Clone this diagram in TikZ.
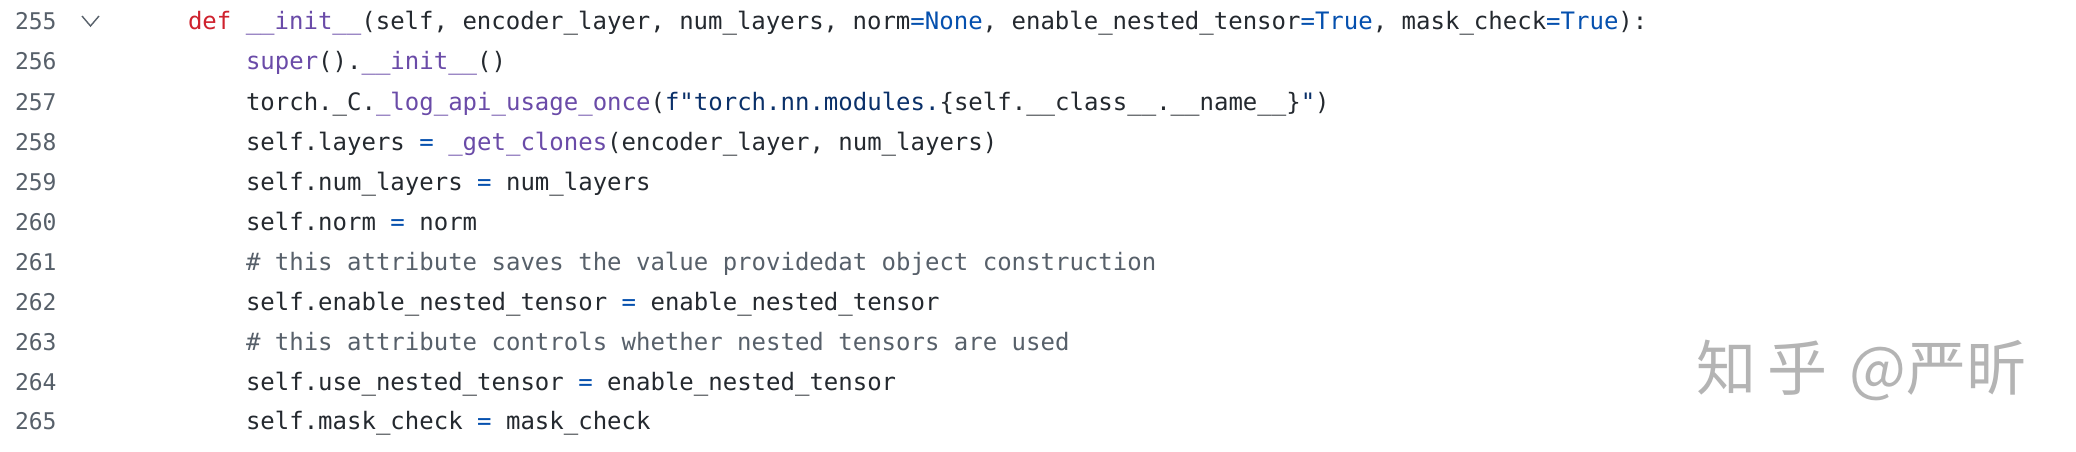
\documentclass[tikz,border=0pt]{standalone}
\usepackage{fontspec}
\newfontfamily\codefont{DejaVu Sans Mono}
\newfontfamily\cjkfont{Noto Sans CJK SC}
\definecolor{codetext}{HTML}{24292F}
\definecolor{numgray}{HTML}{57606A}
\definecolor{kwred}{HTML}{CF222E}
\definecolor{fnpurple}{HTML}{6A4BA8}
\definecolor{constblue}{HTML}{0550AE}
\definecolor{strblue}{HTML}{0A3069}
\definecolor{wmgray}{HTML}{B4B4B4}
\newcommand{\kwd}[1]{\textcolor{kwred}{#1}}
\newcommand{\fnc}[1]{\textcolor{fnpurple}{#1}}
\newcommand{\cst}[1]{\textcolor{constblue}{#1}}
\newcommand{\strg}[1]{\textcolor{strblue}{#1}}
\newcommand{\eqs}{\textcolor{constblue}{=}}
\tikzset{
  x=1pt,y=-1pt,
  codeline/.style={anchor=base west,inner sep=0pt,outer sep=0pt,text=codetext,
    font=\codefont\fontsize{24.0}{24}\selectfont\frenchspacing},
  comment/.style={codeline,text=numgray},
  linenum/.style={anchor=base west,inner sep=0pt,outer sep=0pt,text=numgray,
    font=\codefont\fontsize{23}{24}\selectfont},
  watermark/.style={anchor=base west,inner sep=0pt,outer sep=0pt,text=wmgray,
    font=\cjkfont\fontsize{60}{60}\selectfont}
}
\begin{document}
\begin{tikzpicture}
\useasboundingbox[fill=white] (0,0) rectangle (2076,452);
% line numbers
\node[linenum] (n255) at (15,30) {255};
\node[linenum] (n256) at (15,70) {256};
\node[linenum] (n257) at (15,110) {257};
\node[linenum] (n258) at (15,150) {258};
\node[linenum] (n259) at (15,190) {259};
\node[linenum] (n260) at (15,230) {260};
\node[linenum] (n261) at (15,270) {261};
\node[linenum] (n262) at (15,310) {262};
\node[linenum] (n263) at (15,350) {263};
\node[linenum] (n264) at (15,390) {264};
\node[linenum] (n265) at (15,429.5) {265};
% fold chevron
\draw[numgray,line width=1.4pt] (82,16) -- (90.5,26) -- (99,16);
% code
\node[codeline] (c255) at (188,30) {\kwd{def} \fnc{\_\_init\_\_}(self, encoder\_layer, num\_layers, norm\eqs\cst{None}, enable\_nested\_tensor\eqs\cst{True}, mask\_check\eqs\cst{True}):};
\node[codeline] (c256) at (246,70) {\fnc{super}().\fnc{\_\_init\_\_}()};
\node[codeline] (c257) at (246,110) {torch.\_C.\fnc{\_log\_api\_usage\_once}(\strg{f"torch.nn.modules.}\{self.\_\_class\_\_.\_\_name\_\_\}\strg{"})};
\node[codeline] (c258) at (246,150) {self.layers \eqs{} \fnc{\_get\_clones}(encoder\_layer, num\_layers)};
\node[codeline] (c259) at (246,190) {self.num\_layers \eqs{} num\_layers};
\node[codeline] (c260) at (246,230) {self.norm \eqs{} norm};
\node[comment] (c261) at (246,270) {\# this attribute saves the value providedat object construction};
\node[codeline] (c262) at (246,310) {self.enable\_nested\_tensor \eqs{} enable\_nested\_tensor};
\node[comment] (c263) at (246,350) {\# this attribute controls whether nested tensors are used};
\node[codeline] (c264) at (246,390) {self.use\_nested\_tensor \eqs{} enable\_nested\_tensor};
\node[codeline] (c265) at (246,429.5) {self.mask\_check \eqs{} mask\_check};
% watermark
\node[watermark] (w1) at (1696,390) {知\hspace{11pt}乎};
\node[watermark] (w2) at (1849,390) {@};
\node[watermark] (w3) at (1906,390) {严昕};
\end{tikzpicture}
\end{document}
